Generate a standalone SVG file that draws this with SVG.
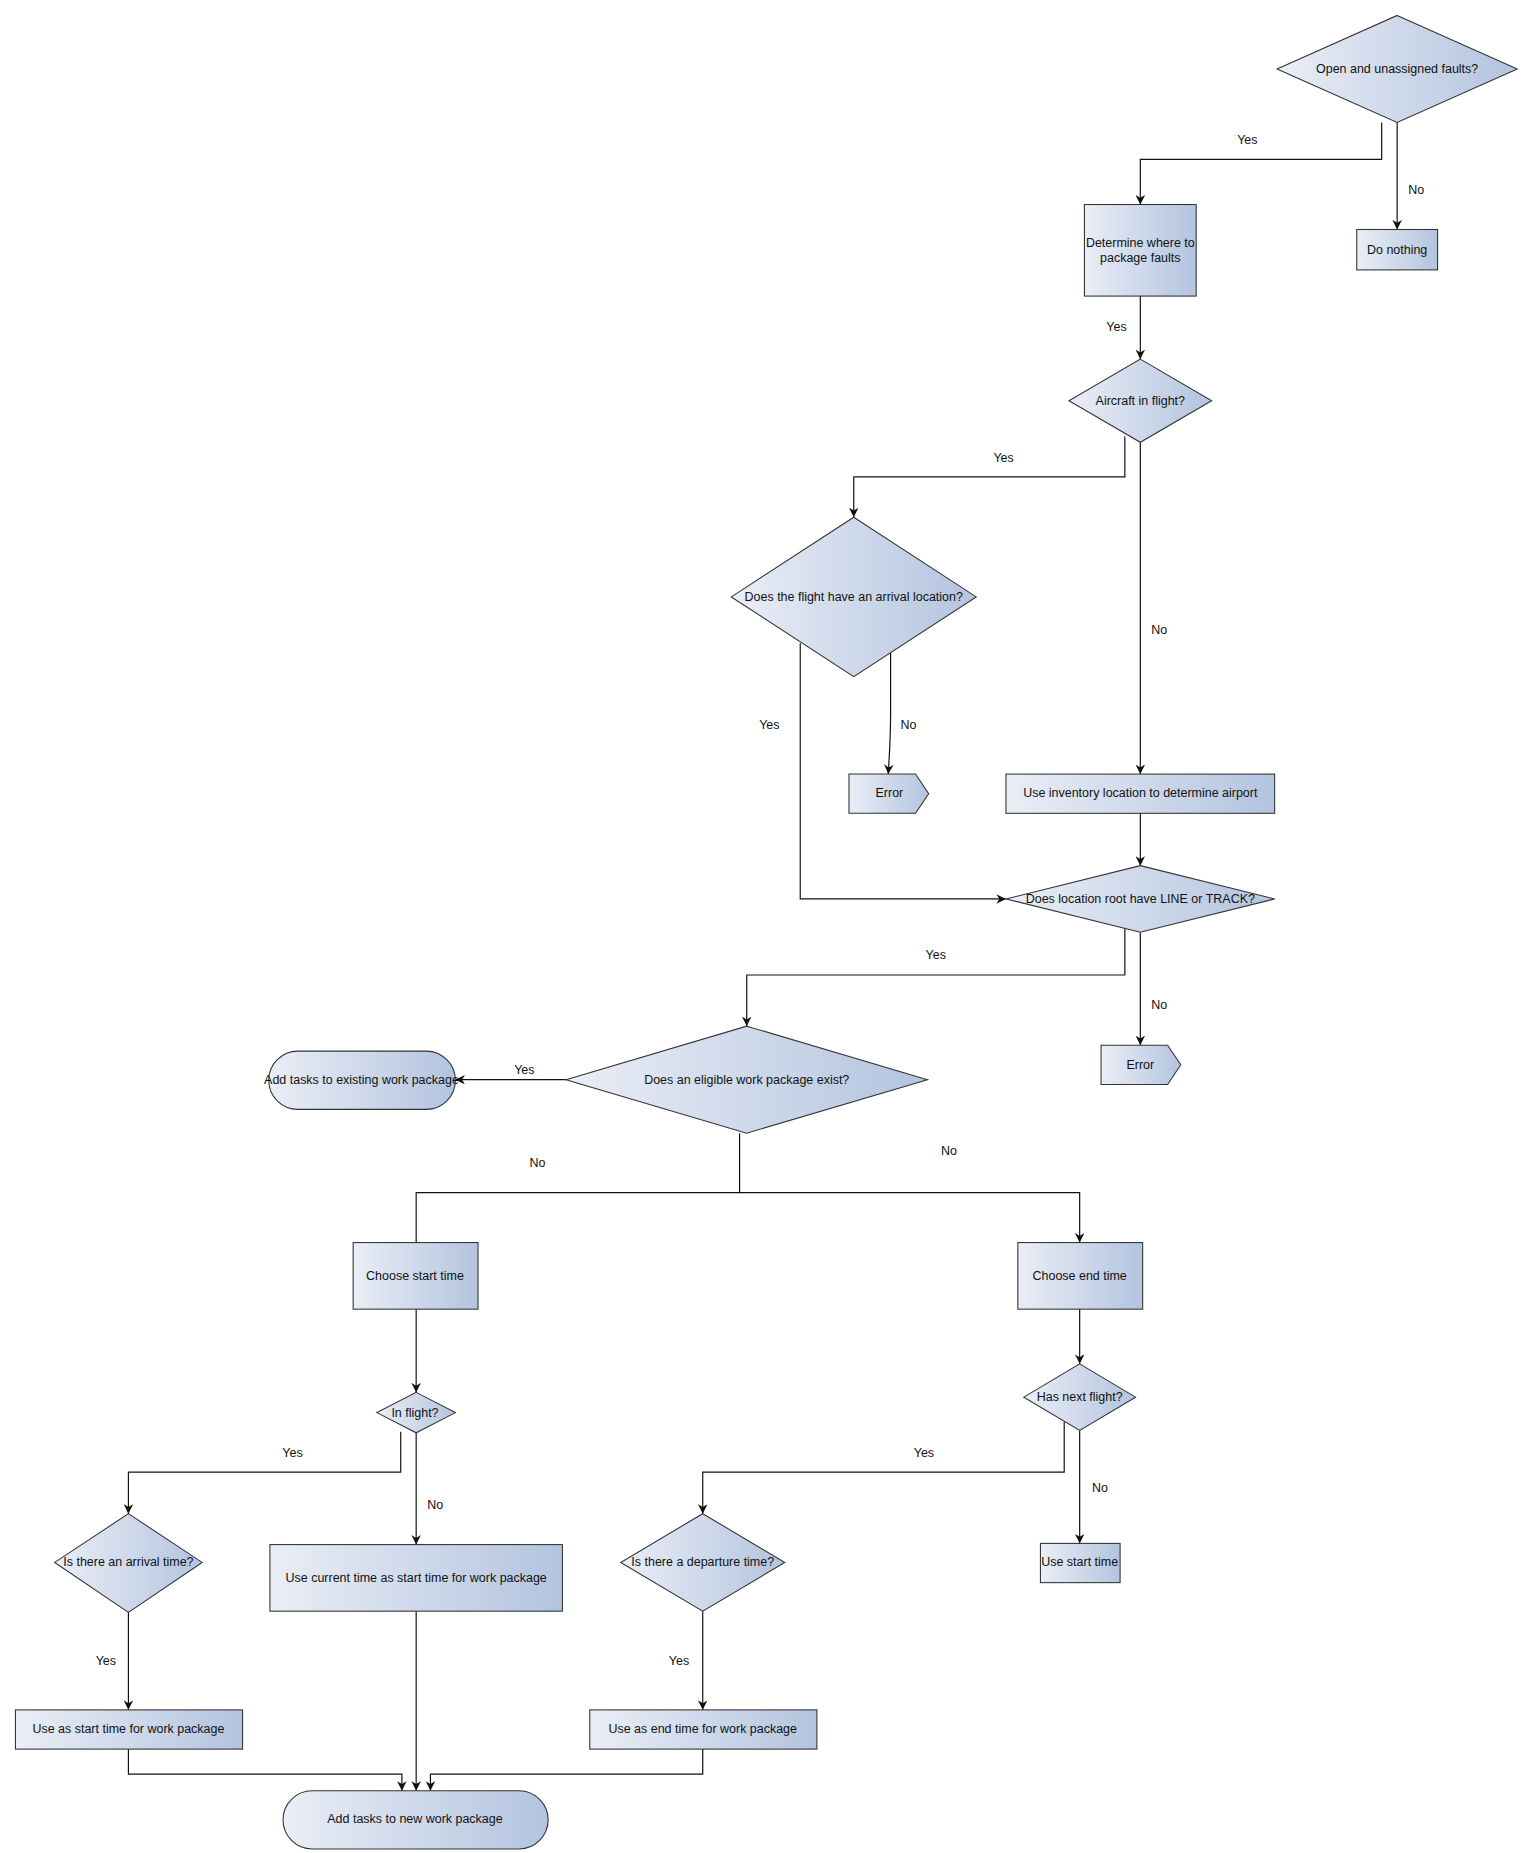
<svg xmlns="http://www.w3.org/2000/svg" width="1522" height="1853" viewBox="0 0 1522 1853">
<style>
.n{fill:url(#g);stroke:#333;stroke-width:0.9}
text{font-family:"Liberation Sans",Arial,sans-serif;font-size:10.5px;fill:#111;text-anchor:middle;dominant-baseline:central}
.c path{fill:none;stroke:#111;stroke-width:1}
</style>
<defs>
<linearGradient id="g" x1="0" y1="0" x2="1" y2="0"><stop offset="0" stop-color="#eaeef6"/><stop offset="1" stop-color="#b3c4df"/></linearGradient>
<marker id="a" viewBox="0 0 10 10" refX="10" refY="5" markerWidth="8" markerHeight="8" orient="auto"><path d="M0,0 L10,5 L0,10 L3,5 z" fill="#111"/></marker>
</defs>
<rect width="1522" height="1853" fill="#fff"/>
<g transform="scale(1.18906)">
<g class="c">
<path d="M1162,103 V134 H959 V172" marker-end="url(#a)"/>
<path d="M1175,103 V193" marker-end="url(#a)"/>
<path d="M959,249 V302" marker-end="url(#a)"/>
<path d="M946,367 V401 H718 V435" marker-end="url(#a)"/>
<path d="M959,372 V651" marker-end="url(#a)"/>
<path d="M749,549 V600 Q749,620 747,651" marker-end="url(#a)"/>
<path d="M673,541 V756 H846" marker-end="url(#a)"/>
<path d="M959,684 V728" marker-end="url(#a)"/>
<path d="M946,780 V820 H628 V863" marker-end="url(#a)"/>
<path d="M959,784 V879" marker-end="url(#a)"/>
<path d="M476,908 H383" marker-end="url(#a)"/>
<path d="M622,953 V1003 H350 V1045"/>
<path d="M622,1003 H908 V1045" marker-end="url(#a)"/>
<path d="M350,1101 V1171" marker-end="url(#a)"/>
<path d="M908,1101 V1147" marker-end="url(#a)"/>
<path d="M337,1204 V1238 H108 V1273" marker-end="url(#a)"/>
<path d="M350,1205 V1299" marker-end="url(#a)"/>
<path d="M895,1196 V1238 H591 V1273" marker-end="url(#a)"/>
<path d="M908,1203 V1298" marker-end="url(#a)"/>
<path d="M108,1356 V1438" marker-end="url(#a)"/>
<path d="M591,1355 V1438" marker-end="url(#a)"/>
<path d="M108,1471 V1492 H338 V1506" marker-end="url(#a)"/>
<path d="M350,1355 V1506" marker-end="url(#a)"/>
<path d="M591,1471 V1492 H362 V1506" marker-end="url(#a)"/>
<text x="1049" y="118">Yes</text><text x="1191" y="160">No</text>
<text x="939" y="275">Yes</text><text x="844" y="385">Yes</text>
<text x="975" y="530">No</text><text x="764" y="610">No</text>
<text x="647" y="610">Yes</text><text x="787" y="803">Yes</text>
<text x="975" y="845">No</text><text x="441" y="900">Yes</text>
<text x="452" y="978">No</text><text x="798" y="968">No</text>
<text x="246" y="1222">Yes</text><text x="366" y="1266">No</text>
<text x="777" y="1222">Yes</text><text x="925" y="1251">No</text>
<text x="89" y="1397">Yes</text><text x="571" y="1397">Yes</text>
</g>
<g id="n1"><path class="n" d="M1175,13 L1276,58 L1175,103 L1074,58 Z"/><text x="1175" y="58">Open and unassigned faults?</text></g>
<g id="n2"><rect class="n" x="912" y="172" width="94" height="77"/><text x="959" y="204">Determine where to</text><text x="959" y="217">package faults</text></g>
<g id="n3"><rect class="n" x="1141" y="193" width="68" height="34"/><text x="1175" y="210">Do nothing</text></g>
<g id="n4"><path class="n" d="M959,302 L1019,337 L959,372 L899,337 Z"/><text x="959" y="337">Aircraft in flight?</text></g>
<g id="n5"><path class="n" d="M718,435 L821,502 L718,569 L615,502 Z"/><text x="718" y="502">Does the flight have an arrival location?</text></g>
<g id="n6"><path class="n" d="M714,651 H770 L781,667.5 L770,684 H714 Z"/><text x="748" y="667">Error</text></g>
<g id="n7"><rect class="n" x="846" y="651" width="226" height="33"/><text x="959" y="667">Use inventory location to determine airport</text></g>
<g id="n8"><path class="n" d="M959,728 L1072,756 L959,784 L846,756 Z"/><text x="959" y="756">Does location root have LINE or TRACK?</text></g>
<g id="n9"><path class="n" d="M926,879 H982 L993,895.5 L982,912 H926 Z"/><text x="959" y="896">Error</text></g>
<g id="n10"><path class="n" d="M628,863 L780,908 L628,953 L476,908 Z"/><text x="628" y="908">Does an eligible work package exist?</text></g>
<g id="n11"><rect class="n" x="226" y="884" width="157" height="49" rx="24.5"/><text x="304" y="908">Add tasks to existing work package</text></g>
<g id="n12"><rect class="n" x="297" y="1045" width="105" height="56"/><text x="349" y="1073">Choose start time</text></g>
<g id="n13"><rect class="n" x="856" y="1045" width="105" height="56"/><text x="908" y="1073">Choose end time</text></g>
<g id="n14"><path class="n" d="M350,1171 L383,1188 L350,1205 L317,1188 Z"/><text x="349" y="1188">In flight?</text></g>
<g id="n15"><path class="n" d="M908,1147 L955,1175 L908,1203 L861,1175 Z"/><text x="908" y="1175">Has next flight?</text></g>
<g id="n16"><path class="n" d="M108,1273 L170,1314 L108,1356 L46,1314 Z"/><text x="108" y="1314">Is there an arrival time?</text></g>
<g id="n17"><rect class="n" x="227" y="1299" width="246" height="56"/><text x="350" y="1327">Use current time as start time for work package</text></g>
<g id="n18"><path class="n" d="M591,1273 L660,1314 L591,1355 L522,1314 Z"/><text x="591" y="1314">Is there a departure time?</text></g>
<g id="n19"><rect class="n" x="875" y="1298" width="67" height="33"/><text x="908" y="1314">Use start time</text></g>
<g id="n20"><rect class="n" x="13" y="1438" width="191" height="33"/><text x="108" y="1454">Use as start time for work package</text></g>
<g id="n21"><rect class="n" x="496" y="1438" width="191" height="33"/><text x="591" y="1454">Use as end time for work package</text></g>
<g id="n22"><rect class="n" x="238" y="1506" width="223" height="49" rx="24.5"/><text x="349" y="1530">Add tasks to new work package</text></g>
</g>
</svg>
